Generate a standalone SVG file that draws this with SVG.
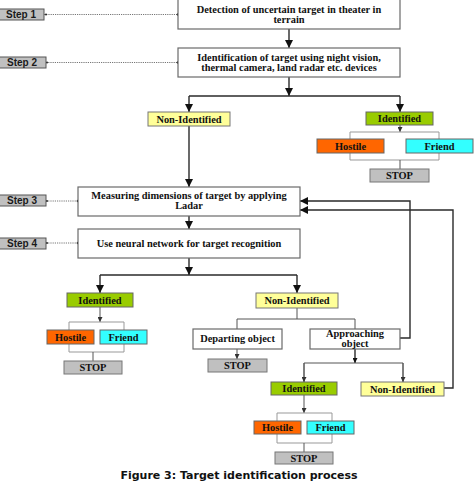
<svg xmlns="http://www.w3.org/2000/svg" width="474" height="484" viewBox="0 0 474 484">
<style>
.box{fill:#fff;stroke:#6a6a6a;stroke-width:1.2}
.t{font-family:"Liberation Serif",serif;font-weight:bold;font-size:10.4px;fill:#111;text-anchor:middle}
.st{font-family:"Liberation Sans",sans-serif;font-weight:bold;font-size:10px;fill:#1a1a1a;text-anchor:middle}
.step{fill:#c0c0c0;stroke:#555;stroke-width:1}
.stop{fill:#c0c0c0;stroke:#777;stroke-width:1}
.yel{fill:#ffff99;stroke:#777;stroke-width:1}
.grn{fill:#99cc00;stroke:#666;stroke-width:1}
.org{fill:#ff6600;stroke:#666;stroke-width:1}
.cyn{fill:#33ffff;stroke:#666;stroke-width:1}
.ln{fill:none;stroke:#2a2a2a;stroke-width:1.4}
.thin{fill:none;stroke:#555;stroke-width:1}
.br{fill:none;stroke:#999;stroke-width:1}
.dot{fill:none;stroke:#777;stroke-width:1;stroke-dasharray:1.2 1}
</style>
<defs>
<marker id="a" viewBox="0 0 10 10" refX="10" refY="5" markerWidth="5" markerHeight="5" markerUnits="userSpaceOnUse" orient="auto"><path d="M0,0 L10,5 L0,10 z" fill="#111"/></marker>
<marker id="al" viewBox="0 0 10 10" refX="10" refY="5" markerWidth="8" markerHeight="8" markerUnits="userSpaceOnUse" orient="auto"><path d="M0,0 L10,5 L0,10 z" fill="#111"/></marker>
<marker id="as" viewBox="0 0 10 10" refX="10" refY="5" markerWidth="5" markerHeight="5" markerUnits="userSpaceOnUse" orient="auto"><path d="M0,0 L10,5 L0,10 z" fill="#333"/></marker>
</defs>

<g id="connectors">
<path class="dot" d="M44,14.5 H178"/>
<path class="dot" d="M46,62.5 H178"/>
<path class="dot" d="M46,201 H78"/>
<path class="dot" d="M46,243 H78"/>
<circle cx="178" cy="14.5" r="1.3" fill="#111"/>
<circle cx="178" cy="62.5" r="1.3" fill="#111"/>
<circle cx="78" cy="201" r="1.3" fill="#111"/>
<circle cx="78" cy="243" r="1.3" fill="#111"/>
<circle cx="46" cy="14.5" r="0.9" fill="#111"/>
<circle cx="47" cy="62.5" r="0.9" fill="#111"/>
<circle cx="47" cy="201" r="0.9" fill="#111"/>
<circle cx="47" cy="243" r="0.9" fill="#111"/>

<path class="ln" d="M289,29 V48" marker-end="url(#al)"/>
<path class="ln" d="M289,77 V96" marker-end="url(#al)"/>
<path class="ln" d="M189,96 H400"/>
<path class="ln" d="M189,96 V112" marker-end="url(#al)"/>
<path class="ln" d="M400,96 V112" marker-end="url(#al)"/>
<path class="thin" d="M400,125 V132" marker-end="url(#as)"/>
<path class="br" d="M350,132 H439 V160 H350 Z"/>
<path class="thin" d="M400,160 V169"/>
<path class="ln" d="M189,126 V187" marker-end="url(#al)"/>
<path class="ln" d="M189,216 V229" marker-end="url(#al)"/>
<path class="ln" d="M189,258 V275" marker-end="url(#al)"/>
<path class="ln" d="M100,275 H297"/>
<path class="ln" d="M100,275 V293" marker-end="url(#al)"/>
<path class="ln" d="M297,275 V293" marker-end="url(#al)"/>
<path class="thin" d="M100,307 V322" marker-end="url(#as)"/>
<path class="br" d="M69,322 H124 V352 H69 Z"/>
<path class="thin" d="M93,352 V361"/>
<path class="thin" d="M297,308 V319"/>
<path class="thin" d="M237,329 V319 H355 V329"/>
<path class="thin" d="M237,349 V359" marker-end="url(#as)"/>
<path class="ln" d="M355,349 V363" marker-end="url(#a)"/>
<path class="thin" d="M304,382 V363 H403 V382" />
<path class="thin" d="M304,363 V382" marker-end="url(#as)"/>
<path class="thin" d="M403,363 V382" marker-end="url(#as)"/>
<path class="ln" d="M400,338 H410 V201 H300" marker-end="url(#al)"/>
<path class="ln" d="M444,388 H453 V210 H300" marker-end="url(#al)"/>
<path class="thin" d="M304,395 V413" marker-end="url(#as)"/>
<path class="br" d="M277,413 H332 V443 H277 Z"/>
<path class="thin" d="M304,443 V452"/>
</g>

<g id="step1"><rect class="step" x="-2" y="9" width="46" height="11"/><text class="st" x="21" y="18.3">Step 1</text></g>
<g id="step2"><rect class="step" x="-2" y="57" width="48" height="11"/><text class="st" x="22" y="66.3">Step 2</text></g>
<g id="step3"><rect class="step" x="-2" y="195" width="48" height="11"/><text class="st" x="22" y="204.3">Step 3</text></g>
<g id="step4"><rect class="step" x="-2" y="238" width="48" height="11"/><text class="st" x="22" y="247.3">Step 4</text></g>

<g id="detect"><rect class="box" x="178" y="-2" width="222" height="31"/><text class="t" x="289" y="12.5">Detection of uncertain target in theater in</text><text class="t" x="289" y="23">terrain</text></g>
<g id="identify"><rect class="box" x="178" y="48" width="222" height="29"/><text class="t" x="289" y="60.5">Identification of target using night vision,</text><text class="t" x="289" y="71">thermal camera, land radar etc. devices</text></g>

<g id="nonid1"><rect class="yel" x="148" y="112" width="82" height="14"/><text class="t" x="189" y="122.5">Non-Identified</text></g>
<g id="id1"><rect class="grn" x="366" y="112" width="67" height="13"/><text class="t" x="399.5" y="122">Identified</text></g>
<g id="hostile1"><rect class="org" x="317" y="139" width="67" height="14"/><text class="t" x="350.5" y="149.5">Hostile</text></g>
<g id="friend1"><rect class="cyn" x="406" y="139" width="67" height="14"/><text class="t" x="439.5" y="149.5">Friend</text></g>
<g id="stop1"><rect class="stop" x="370" y="169" width="59" height="13"/><text class="t" x="399.5" y="179">STOP</text></g>

<g id="ladar"><rect class="box" x="78" y="187" width="222" height="29"/><text class="t" x="189" y="198.5">Measuring dimensions of target by applying</text><text class="t" x="189" y="209">Ladar</text></g>
<g id="neural"><rect class="box" x="78" y="229" width="222" height="29"/><text class="t" x="189" y="246.5">Use neural network for target recognition</text></g>

<g id="id2"><rect class="grn" x="67" y="293" width="66" height="14"/><text class="t" x="100" y="303.5">Identified</text></g>
<g id="hostile2"><rect class="org" x="47" y="330" width="47" height="14"/><text class="t" x="70.5" y="340.5">Hostile</text></g>
<g id="friend2"><rect class="cyn" x="100" y="330" width="47" height="14"/><text class="t" x="123.5" y="340.5">Friend</text></g>
<g id="stop2"><rect class="stop" x="64" y="361" width="58" height="13"/><text class="t" x="93" y="371">STOP</text></g>

<g id="nonid2"><rect class="yel" x="256" y="293" width="82" height="15"/><text class="t" x="297" y="304">Non-Identified</text></g>
<g id="departing"><rect class="box" x="193" y="329" width="89" height="20"/><text class="t" x="237.5" y="342">Departing object</text></g>
<g id="approaching"><rect class="box" x="310" y="329" width="90" height="20"/><text class="t" x="355" y="336.5">Approaching</text><text class="t" x="355" y="346.5">object</text></g>
<g id="stop3"><rect class="stop" x="208" y="359" width="59" height="13"/><text class="t" x="237.5" y="369">STOP</text></g>

<g id="id3"><rect class="grn" x="271" y="382" width="66" height="13"/><text class="t" x="304" y="392">Identified</text></g>
<g id="nonid3"><rect class="yel" x="361" y="382" width="83" height="14"/><text class="t" x="402.5" y="392.5">Non-Identified</text></g>
<g id="hostile3"><rect class="org" x="254" y="421" width="47" height="13"/><text class="t" x="277.5" y="431">Hostile</text></g>
<g id="friend3"><rect class="cyn" x="307" y="421" width="47" height="13"/><text class="t" x="330.5" y="431">Friend</text></g>
<g id="stop4"><rect class="stop" x="275" y="452" width="58" height="12"/><text class="t" x="304" y="461.5">STOP</text></g>

<text x="239" y="479" font-family="DejaVu Sans, sans-serif" font-weight="bold" font-size="11" fill="#111" text-anchor="middle">Figure 3: Target identification process</text>
</svg>
